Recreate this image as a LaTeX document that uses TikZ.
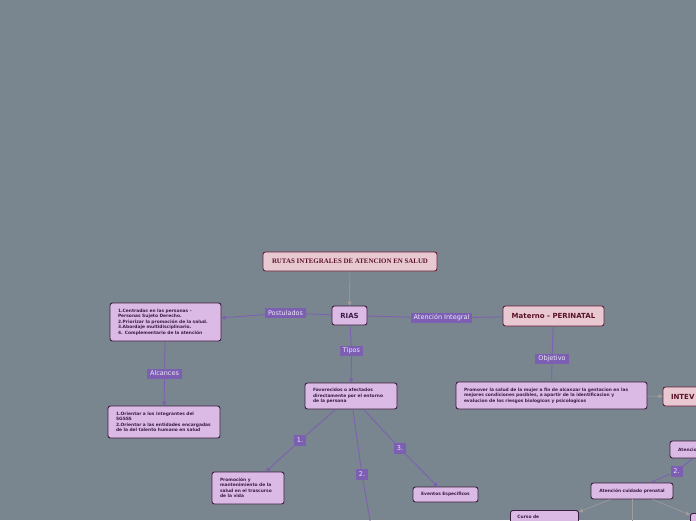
\documentclass[tikz,border=0pt]{standalone}
\usepackage{fontspec}
\setmainfont{DejaVu Sans}
\newfontfamily\titlefont{Liberation Serif}
\usetikzlibrary{arrows.meta}
\definecolor{bgc}{HTML}{79858F}
\definecolor{lavfill}{HTML}{DCBAE6}
\definecolor{lavdraw}{HTML}{3B1E3E}
\definecolor{lavtext}{HTML}{3A1E48}
\definecolor{pinkfill}{HTML}{E8C9D1}
\definecolor{pinkdraw}{HTML}{6A1E33}
\definecolor{pinktext}{HTML}{5C1226}
\definecolor{lblfill}{HTML}{7C5EB3}
\definecolor{lbltext}{HTML}{EEE8F7}
\definecolor{grayline}{HTML}{A39D9D}
\begin{document}
\begin{tikzpicture}[x=1pt,y=-1pt,
  lav/.style={draw=lavdraw, fill=lavfill, line width=0.9pt, rounded corners=2.5pt,
    text=lavtext, font=\fontsize{4.4}{5.5}\selectfont\bfseries, inner xsep=0pt, inner ysep=0pt},
  lavpar/.style={lav, align=left, inner xsep=8pt},
  pink/.style={draw=pinkdraw, fill=pinkfill, line width=0.9pt, rounded corners=2.5pt,
    text=pinktext, inner sep=0pt},
  lbl/.style={fill=lblfill, text=lbltext, font=\fontsize{6.5}{7}\selectfont,
    inner xsep=3pt, inner ysep=1.5pt, minimum height=10pt},
  num/.style={lbl, minimum width=12pt, minimum height=11pt, inner sep=0pt},
  conn/.style={draw=lblfill, line width=0.8pt},
  gconn/.style={draw=grayline, line width=0.6pt},
  arr/.style={-{Triangle[length=4pt,width=4pt]}},
]
\useasboundingbox (0,0) rectangle (696,520);
\fill[bgc] (0,0) rectangle (696,520);

% nodes
\node[pink, minimum width=174pt, minimum height=19pt,
  font=\titlefont\fontsize{6.9}{8}\selectfont\bfseries] (title) at (350,261.5)
  {RUTAS INTEGRALES DE ATENCION EN SALUD};
\node[lav, minimum width=35pt, minimum height=19pt, font=\fontsize{7}{8}\selectfont\bfseries] (rias) at (349.5,315.5) {RIAS};
\node[lbl] (post) at (285.5,313) {Postulados};
\node[lavpar, text width=95pt, minimum height=38pt] (box1) at (165.5,322)
  {1.Centradas en las personas -\\Personas Sujeto Derecho.\\2.Priorizar la promoción de la salud.\\3.Abordaje multidisciplinario.\\4. Complementario de la atención};
\node[lbl] (alc) at (164.5,373.5) {Alcances};
\node[lavpar, text width=96pt, minimum height=32pt] (box2) at (164,422)
  {1.Orientar a los integrantes del\\SGSSS\\2.Orientar a las entidades encargadas\\de la del talento humano en salud};
\node[lbl] (ai) at (441.5,318) {Atención Integral};
\node[pink, minimum width=101pt, minimum height=20pt, font=\fontsize{7}{8}\selectfont\bfseries] (mat) at (553.5,316) {Materno - PERINATAL};
\node[lbl] (obj) at (552,359) {Objetivo};
\node[lavpar, text width=175pt, minimum height=27pt] (prom) at (551.5,395.5)
  {Promover la salud de la mujer a fin de alcanzar la gestacion en las\\mejores condiciones posibles, a apartir de la identificacion y\\evalucion de los riesgos biologicos y psicologicos};
\node[pink, align=left, inner xsep=8pt, text width=61pt, minimum height=19pt, font=\fontsize{7}{8}\selectfont\bfseries] (intev) at (701.5,396.5) {INTEV};
\node[lbl] (tipos) at (351.5,351) {Tipos};
\node[lavpar, text width=76pt, minimum height=26pt] (fav) at (351,396)
  {Favorecidos o afectados\\directamente por el entorno\\de la persona};
\node[num] (n1) at (300,440.5) {1.};
\node[num] (n2) at (362,474.5) {2.};
\node[num] (n3) at (400,448.5) {3.};
\node[lavpar, text width=56pt, minimum height=32pt] (pm) at (248,488)
  {Promoción y\\mantenimiento de la\\salud en el trascurso\\de la vida};
\node[lav, minimum width=65pt, minimum height=15pt] (ev) at (445.5,494.5) {Eventos Especificos};
\node[lav, minimum width=82pt, minimum height=16pt] (acp) at (632,491) {Atención cuidado prenatal};
\node[num] (n2b) at (676.5,471) {2.};
\node[lavpar, text width=54pt, minimum height=17pt] (atc) at (705,449.5) {Atencio};
\node[lavpar, anchor=north west, text width=54pt, inner xsep=7pt, inner ysep=5pt] (curso) at (510,510) {Curso de\\~\\~\\~};
\node[lav, anchor=north west, minimum width=70pt, minimum height=32pt] (fr) at (690,513) {};
\coordinate (down2) at (371,526);
\coordinate (downacp) at (632,526);

% connectors
\draw[gconn, arr] (title) -- (rias);
\draw[conn] (rias) -- (post);
\draw[conn, arr] (post) -- (box1);
\draw[conn] (box1) -- (alc);
\draw[conn, arr] (alc) -- (box2);
\draw[conn] (rias) -- (ai);
\draw[conn] (ai) -- (mat);
\draw[conn] (mat) -- (obj);
\draw[conn] (obj) -- (prom);
\draw[gconn, arr] (prom) -- (intev);
\draw[conn] (rias) -- (tipos);
\draw[conn, arr] (tipos) -- (fav);
\draw[conn] (fav) -- (n1);
\draw[conn, arr] (n1) -- (pm);
\draw[conn] (fav) -- (n2);
\draw[conn] (n2) -- (down2);
\draw[conn] (fav) -- (n3);
\draw[conn, arr] (n3) -- (ev);
\draw[conn] (acp) -- (n2b);
\draw[conn] (n2b) -- (atc);
\draw[gconn, arr] (acp) -- (curso);
\draw[gconn] (acp) -- (downacp);
\draw[gconn, arr] (acp) -- (fr);
\end{tikzpicture}
\end{document}
